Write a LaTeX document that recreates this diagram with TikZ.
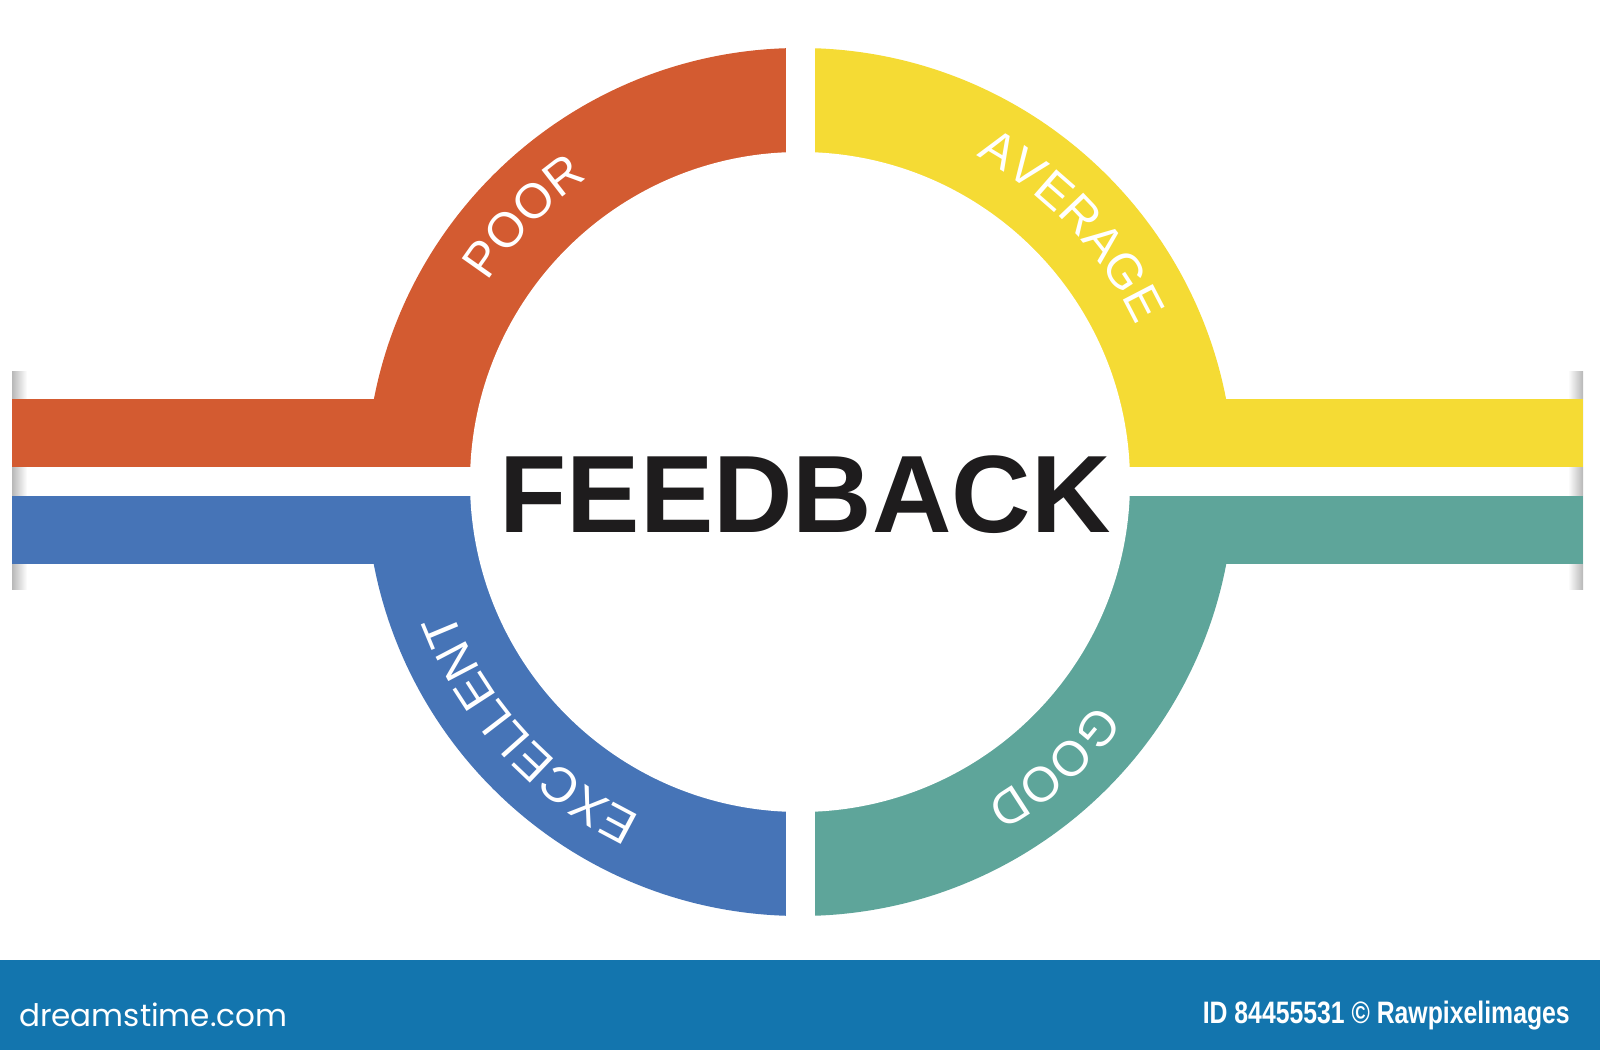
\documentclass[tikz,border=0pt]{standalone}
\usepackage{fontspec}
\setmainfont{Liberation Sans}
\newfontfamily\logofont{Poppins}
\usetikzlibrary{decorations.text}
\definecolor{cpoor}{RGB}{211,91,49}
\definecolor{cavg}{RGB}{245,219,52}
\definecolor{cgood}{RGB}{94,165,154}
\definecolor{cexc}{RGB}{70,116,183}
\definecolor{cband}{RGB}{19,117,174}
\definecolor{cink}{RGB}{30,28,29}
\newcommand\lblfont{\fontsize{49}{49}\selectfont}
\tikzset{
  arclabel/.style={decorate, decoration={text along path, text align=center, text={|\lblfont\color{white}|#1}}},
  edgeshade/.style={draw=none}
}
\begin{document}
\begin{tikzpicture}[x=1pt,y=1pt]
\fill[white] (0,0) rectangle (1600,1050);
\useasboundingbox (0,0) rectangle (1600,1050);
\coordinate (C) at (800,568);
% faint edge shadows
\shade[edgeshade, left color=black!28, right color=white] (12,460) rectangle (27,678);
\shade[edgeshade, left color=white, right color=black!28] (1568,460) rectangle (1583,678);
% quarter discs
\fill[cpoor] (C) -- ([shift={(180:434pt)}]C) arc[start angle=180, end angle=90, radius=434pt] -- cycle;
\fill[cavg]  (C) -- ([shift={(90:434pt)}]C) arc[start angle=90, end angle=0, radius=434pt] -- cycle;
\fill[cgood] (C) -- ([shift={(0:434pt)}]C) arc[start angle=0, end angle=-90, radius=434pt] -- cycle;
\fill[cexc]  (C) -- ([shift={(270:434pt)}]C) arc[start angle=270, end angle=180, radius=434pt] -- cycle;
% bars
\fill[cpoor] (12,582.5) rectangle (800,651);
\fill[cexc]  (12,486) rectangle (800,553.5);
\fill[cavg]  (800,582.5) rectangle (1583,651);
\fill[cgood] (800,486) rectangle (1583,553.5);
% hollow and gaps
\fill[white] (C) circle[radius=330pt];
\fill[white] (300,553.5) rectangle (1300,582.5);
\fill[white] (785.5,120) rectangle (814.5,1010);
% curved labels
\path[arclabel={POOR}] ([shift={(176.2:370.5pt)}]C) arc[start angle=176.2, end angle=96.2, radius=370.5pt];
\path[arclabel={AVERAGE}] ([shift={(83.2:370.5pt)}]C) arc[start angle=83.2, end angle=3.2, radius=370.5pt];
\path[arclabel={GOOD}] ([shift={(-8.3:370.5pt)}]C) arc[start angle=-8.3, end angle=-88.3, radius=370.5pt];
\path[arclabel={EXCELLENT}] ([shift={(262.4:370.5pt)}]C) arc[start angle=262.4, end angle=182.4, radius=370.5pt];
% title
\node[anchor=base, inner sep=0pt, text=cink, font=\bfseries\fontsize{110}{110}\selectfont] (title) at (805,517) {FEEDBACK};
% bottom band
\fill[cband] (0,0) rectangle (1600,90);
\node[anchor=base west, inner sep=0pt, text=white, font=\logofont\fontsize{31}{31}\selectfont] (logo) at (19,24) {dreamstime.com};
\node[anchor=base east, inner sep=0pt, text=white, font=\bfseries\fontsize{31}{31}\selectfont] (credit) at (1570,27) {\scalebox{0.8}[1]{ID 84455531 © Rawpixelimages}};
\end{tikzpicture}
\end{document}
